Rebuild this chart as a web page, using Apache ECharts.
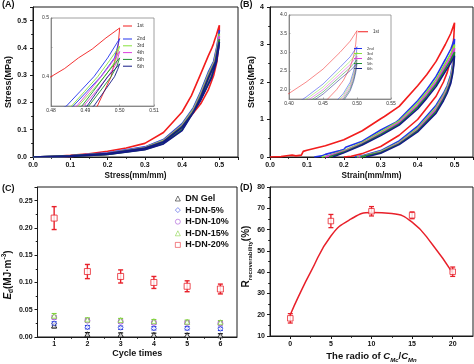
<!DOCTYPE html>
<html><head><meta charset="utf-8">
<script src="https://cdn.jsdelivr.net/npm/echarts@6/dist/echarts.min.js"></script>
<style>html,body{margin:0;padding:0;background:#fff}#c{width:474px;height:364px}</style>
</head><body><div id="c"></div>
<script>
const FONT = '"Liberation Sans", Arial, Helvetica, sans-serif';

// ---------------- Panel A: loading / unloading loops  [strain, stress(MPa)]
const cycleNames = ['1st','2nd','3rd','4th','5th','6th'];
const cycleColors = ['#f21d1d','#2233ee','#86e23c','#dd3ddd','#1f8f2f','#141a86'];
const aLoop1 = [[0,0],[0.05,0.002],[0.1,0.006],[0.15,0.012],[0.2,0.021],[0.25,0.033],[0.3,0.05],[0.35,0.09],[0.4,0.165],[0.425,0.225],[0.45,0.305],[0.47,0.37],[0.48,0.4],[0.484,0.414],[0.488,0.432],[0.492,0.447],[0.496,0.466],[0.5,0.483],
  [0.4995,0.45],[0.4975,0.4],[0.4935,0.35],[0.485,0.3],[0.47,0.245],[0.45,0.195],[0.4,0.11],[0.35,0.06],[0.3,0.032],[0.2,0.01],[0.1,0.002],[0.05,0]];
const aLoop2 = [[0,0],[0.1,0.004],[0.2,0.015],[0.3,0.037],[0.35,0.064],[0.4,0.122],[0.43,0.18],[0.45,0.24],[0.47,0.31],[0.4845,0.35],[0.4885,0.375],[0.4925,0.4],[0.4965,0.432],[0.5,0.465],
  [0.4985,0.432],[0.4945,0.4],[0.4905,0.375],[0.4865,0.35],[0.475,0.3],[0.45,0.225],[0.4,0.11],[0.35,0.056],[0.3,0.031],[0.2,0.011],[0.1,0.003],[0.05,0]];
const aLoop3 = [[0,0],[0.1,0.004],[0.2,0.014],[0.3,0.035],[0.35,0.061],[0.4,0.118],[0.43,0.175],[0.45,0.234],[0.47,0.303],[0.486,0.35],[0.4898,0.375],[0.4936,0.4],[0.497,0.427],[0.5,0.452],
  [0.4988,0.427],[0.4956,0.4],[0.4918,0.375],[0.488,0.35],[0.476,0.298],[0.45,0.22],[0.4,0.106],[0.35,0.054],[0.3,0.03],[0.2,0.01],[0.1,0.003],[0.05,0]];
const aLoop4 = [[0,0],[0.1,0.004],[0.2,0.014],[0.3,0.034],[0.35,0.059],[0.4,0.115],[0.43,0.17],[0.45,0.228],[0.47,0.297],[0.4875,0.35],[0.4911,0.375],[0.4946,0.4],[0.4975,0.422],[0.5,0.443],
  [0.499,0.422],[0.4966,0.4],[0.4931,0.375],[0.4895,0.35],[0.477,0.295],[0.45,0.216],[0.4,0.103],[0.35,0.052],[0.3,0.029],[0.2,0.01],[0.1,0.002],[0.05,0]];
const aLoop5 = [[0,0],[0.1,0.004],[0.2,0.013],[0.3,0.033],[0.35,0.057],[0.4,0.112],[0.43,0.166],[0.45,0.223],[0.47,0.292],[0.489,0.35],[0.4923,0.375],[0.4955,0.4],[0.498,0.418],[0.5,0.432],
  [0.4992,0.418],[0.4975,0.4],[0.4943,0.375],[0.491,0.35],[0.478,0.292],[0.45,0.212],[0.4,0.1],[0.35,0.05],[0.3,0.028],[0.2,0.009],[0.1,0.002],[0.05,0]];
const aLoop6 = [[0,0],[0.1,0.004],[0.2,0.013],[0.3,0.032],[0.35,0.055],[0.4,0.109],[0.43,0.162],[0.45,0.218],[0.47,0.287],[0.4905,0.35],[0.4935,0.375],[0.4965,0.4],[0.4985,0.412],[0.5,0.422],
  [0.4994,0.412],[0.4985,0.4],[0.4955,0.375],[0.4925,0.35],[0.479,0.29],[0.45,0.208],[0.4,0.097],[0.35,0.048],[0.3,0.027],[0.2,0.009],[0.1,0.002],[0.05,0]];
const aXTicks = [0,0.1,0.2,0.3,0.4,0.5];
const aYTicks = [0,0.1,0.2,0.3,0.4,0.5];
const aInsetXTicks = [0.48,0.49,0.50,0.51];
const aInsetYTicks = [0.4,0.5];

// ---------------- Panel B: loading / unloading loops [strain, stress(MPa)]
const bLoop1 = [[0,0],[0.03,0.01],[0.05,0.04],[0.06,0.05],[0.07,0.03],[0.085,0.05],[0.09,0.15],[0.1,0.18],[0.15,0.3],[0.2,0.46],[0.25,0.7],[0.3,1.02],[0.31,1.08],[0.35,1.35],[0.4,1.9],[0.425,2.2],[0.45,2.55],[0.475,3.0],[0.49,3.3],[0.5,3.58],
  [0.498,3.2],[0.495,2.9],[0.49,2.6],[0.48,2.25],[0.47,2.0],[0.45,1.62],[0.4,1.0],[0.35,0.58],[0.3,0.28],[0.25,0.09],[0.22,0.02],[0.2,0]];
const bLoop2 = [[0.12,0],[0.14,0.03],[0.15,0.07],[0.155,0.09],[0.19,0.17],[0.2,0.2],[0.205,0.26],[0.25,0.42],[0.3,0.72],[0.34,0.92],[0.35,1.0],[0.4,1.5],[0.425,1.8],[0.45,2.15],[0.475,2.6],[0.49,2.88],[0.5,3.15],
  [0.498,2.8],[0.495,2.5],[0.49,2.2],[0.48,1.9],[0.47,1.7],[0.45,1.38],[0.4,0.82],[0.35,0.43],[0.3,0.17],[0.25,0.03],[0.23,0]];
const bLoop3 = [[0.14,0],[0.16,0.04],[0.2,0.17],[0.25,0.39],[0.3,0.67],[0.35,0.96],[0.4,1.44],[0.425,1.74],[0.45,2.07],[0.475,2.5],[0.49,2.76],[0.5,3.0],
  [0.498,2.68],[0.495,2.42],[0.49,2.14],[0.48,1.85],[0.47,1.65],[0.45,1.32],[0.4,0.77],[0.35,0.39],[0.3,0.15],[0.25,0.02],[0.235,0]];
const bLoop4 = [[0.15,0],[0.2,0.15],[0.25,0.36],[0.3,0.63],[0.35,0.92],[0.4,1.38],[0.425,1.68],[0.45,2.0],[0.475,2.42],[0.49,2.67],[0.5,2.9],
  [0.498,2.6],[0.495,2.35],[0.49,2.08],[0.48,1.8],[0.47,1.6],[0.45,1.27],[0.4,0.73],[0.35,0.37],[0.3,0.13],[0.25,0.015],[0.24,0]];
const bLoop5 = [[0.16,0],[0.2,0.13],[0.25,0.34],[0.3,0.6],[0.35,0.88],[0.4,1.33],[0.425,1.62],[0.45,1.94],[0.475,2.35],[0.49,2.59],[0.5,2.8],
  [0.498,2.52],[0.495,2.28],[0.49,2.02],[0.48,1.75],[0.47,1.55],[0.45,1.22],[0.4,0.7],[0.35,0.35],[0.3,0.12],[0.25,0.01],[0.245,0]];
const bLoop6 = [[0.17,0],[0.2,0.11],[0.25,0.32],[0.3,0.57],[0.35,0.85],[0.4,1.28],[0.425,1.57],[0.45,1.88],[0.475,2.28],[0.49,2.51],[0.5,2.7],
  [0.498,2.45],[0.495,2.22],[0.49,1.97],[0.48,1.7],[0.47,1.5],[0.45,1.17],[0.4,0.67],[0.35,0.33],[0.3,0.1],[0.26,0]];
const bXTicks = [0,0.1,0.2,0.3,0.4,0.5];
const bYTicks = [0,1,2,3,4];
const bInsetXTicks = [0.40,0.45,0.50,0.55];
const bInsetYTicks = [2.0,2.5,3.0,3.5,4.0];

// ---------------- Panel C: dissipated energy vs cycle
const cycles = [1,2,3,4,5,6];
const cNames = ['DN Gel','H-DN-5%','H-DN-10%','H-DN-15%','H-DN-20%'];
const dnGel = [0.021,0.005,0.0045,0.004,0.0035,0.003];
const dnGelErr = [0.004,0.003,0.003,0.003,0.003,0.003];
const hdn5 = [0.025,0.018,0.017,0.016,0.016,0.015];
const hdn5Err = [0.003,0.003,0.003,0.003,0.003,0.003];
const hdn10 = [0.036,0.03,0.028,0.026,0.026,0.025];
const hdn10Err = [0.003,0.003,0.003,0.003,0.003,0.003];
const hdn15 = [0.039,0.032,0.031,0.029,0.028,0.027];
const hdn15Err = [0.004,0.003,0.003,0.003,0.003,0.003];
const hdn20 = [0.218,0.12,0.111,0.1,0.093,0.088];
const hdn20Err = [0.021,0.013,0.012,0.011,0.01,0.009];
const cYTicks = [0,0.05,0.1,0.15,0.2,0.25];
const cMinorX = [1.5,2.5,3.5,4.5,5.5];

// ---------------- Panel D: recoverability vs ratio
const ratio = [0,5,10,15,20];
const recov = [18.3,64,68.6,66.7,40.2];
const recovErr = [2.2,3.1,2.2,1.6,2.2];
const fitRatio = [0,1,2.5,5,7.5,10,12.5,15,17.5,20];
const fitRecov = [20,28.5,40,57,65,68,67.5,63.5,53,39.5];
const dXTicks = [0,5,10,15,20];
const dMinorX = [2.5,7.5,12.5,17.5];
const dYTicks = [10,20,30,40,50,60,70,80];

// ---------------- helpers
function merge(a, b) {
  const r = Object.assign({}, a);
  for (const k in b) {
    const v = b[k];
    if (v && typeof v === 'object' && !Array.isArray(v) && r[k] && typeof r[k] === 'object' && !Array.isArray(r[k])) r[k] = merge(r[k], v);
    else r[k] = v;
  }
  return r;
}
const MAIN = {
  type: 'value', nameLocation: 'middle',
  axisLine: { show: true, onZero: false, lineStyle: { color: '#1a1a1a', width: 1 } },
  axisTick: { show: true, inside: false, length: 3, lineStyle: { color: '#1a1a1a', width: 1 } },
  minorTick: { show: true, splitNumber: 2, length: 1.8, lineStyle: { color: '#1a1a1a', width: 1 } },
  splitLine: { show: false }, minorSplitLine: { show: false },
  axisLabel: { show: true, fontSize: 7, fontWeight: 'bold', color: '#111', fontFamily: FONT, margin: 5 },
  nameTextStyle: { fontSize: 9, fontWeight: 'bold', color: '#111', fontFamily: FONT }
};
const INSET = merge(MAIN, {
  axisLine: { lineStyle: { color: '#777', width: 0.8 } },
  axisTick: { inside: true, length: 1.5, lineStyle: { color: '#777', width: 0.6 } },
  minorTick: { show: false },
  axisLabel: { fontSize: 5, fontWeight: 'normal', color: '#333', margin: 2 }
});
const MINOR = merge(MAIN, {
  axisLine: { show: false }, axisLabel: { show: false }, minorTick: { show: false },
  axisTick: { length: 1.8 }
});
const f1 = v => v.toFixed(1), f2 = v => v.toFixed(2), f0 = v => String(v);

const xAxis = [
  merge(MAIN, { gridIndex: 0, min: 0, max: 0.55, interval: 0.1, axisLabel: { customValues: aXTicks, formatter: f1 },
    name: 'Stress(mm/mm)', nameGap: 15, nameTextStyle: { fontSize: 8.2 } }),
  merge(INSET, { gridIndex: 1, min: 0.48, max: 0.51, interval: 0.01, axisLabel: { customValues: aInsetXTicks, formatter: f2 } }),
  merge(MAIN, { gridIndex: 2, min: 0, max: 0.55, interval: 0.1, axisLabel: { customValues: bXTicks, formatter: f1 },
    name: 'Strain(mm/mm)', nameGap: 15, nameTextStyle: { fontSize: 8.2 } }),
  merge(INSET, { gridIndex: 3, min: 0.4, max: 0.55, interval: 0.05, axisLabel: { customValues: bInsetXTicks, formatter: f2 } }),
  merge(MAIN, { gridIndex: 4, min: 0.5, max: 6.5, minorTick: { show: false }, axisTick: { customValues: cycles },
    axisLabel: { customValues: cycles, formatter: f0, margin: 4 }, name: 'Cycle times', nameGap: 10.5 }),
  merge(MINOR, { gridIndex: 4, min: 0.5, max: 6.5, position: 'bottom', axisTick: { customValues: cMinorX } }),
  merge(MAIN, { gridIndex: 5, min: -2.5, max: 22.5, minorTick: { show: false }, axisTick: { customValues: dXTicks },
    axisLabel: { customValues: dXTicks, formatter: f0, margin: 4.5 },
    name: '{b|The radio of }{i|C}{s|Mc}{b|/}{i|C}{s|Mn}', nameGap: 14,
    nameTextStyle: { fontSize: 9.5, rich: {
      b: { fontSize: 9.5, fontWeight: 'bold', fontFamily: FONT, color: '#111', lineHeight: 13, verticalAlign: 'middle' },
      i: { fontSize: 9.5, fontWeight: 'bold', fontStyle: 'italic', fontFamily: FONT, color: '#111', lineHeight: 13, verticalAlign: 'middle' },
      s: { fontSize: 6, fontWeight: 'bold', fontStyle: 'italic', fontFamily: FONT, color: '#111', verticalAlign: 'bottom' } } } }),
  merge(MINOR, { gridIndex: 5, min: -2.5, max: 22.5, position: 'bottom', axisTick: { customValues: dMinorX } })
];
const yAxis = [
  merge(MAIN, { gridIndex: 0, min: 0, max: 0.55, interval: 0.1, axisLabel: { customValues: aYTicks, formatter: f1, margin: 6 },
    name: 'Stress(MPa)', nameGap: 17 }),
  merge(INSET, { gridIndex: 1, min: 0.35, max: 0.5, interval: 0.05, axisLabel: { customValues: aInsetYTicks, formatter: f1 } }),
  merge(MAIN, { gridIndex: 2, min: 0, max: 4, interval: 1, axisLabel: { customValues: bYTicks, formatter: f0, margin: 6 },
    name: 'Stress(MPa)', nameGap: 14 }),
  merge(INSET, { gridIndex: 3, min: 1.75, max: 4, axisTick: { customValues: bInsetYTicks }, axisLabel: { customValues: bInsetYTicks, formatter: f1 } }),
  merge(MAIN, { gridIndex: 4, min: 0, max: 0.275, interval: 0.05, axisLabel: { customValues: cYTicks, formatter: f2 },
    name: '{i|E}{s|d}{b|(MJ·m}{p|-3}{b|)}', nameGap: 13,
    nameTextStyle: { fontSize: 10, padding: [0, 26, 0, 0], rich: {
      b: { fontSize: 10, fontWeight: 'bold', fontFamily: FONT, color: '#111', lineHeight: 14, verticalAlign: 'middle' },
      i: { fontSize: 10, fontWeight: 'bold', fontStyle: 'italic', fontFamily: FONT, color: '#111', lineHeight: 14, verticalAlign: 'middle' },
      s: { fontSize: 6.5, fontWeight: 'bold', fontFamily: FONT, color: '#111', verticalAlign: 'bottom' },
      p: { fontSize: 6.5, fontWeight: 'bold', fontFamily: FONT, color: '#111', verticalAlign: 'top' } } } }),
  merge(MAIN, { gridIndex: 5, min: 10, max: 80, interval: 10, axisLabel: { customValues: dYTicks, formatter: f0 },
    name: '{b|R}{s|recoverability}{b|(%)}', nameGap: 13,
    nameTextStyle: { fontSize: 10, padding: [0, 0, 0, 10], rich: {
      b: { fontSize: 10, fontWeight: 'bold', fontFamily: FONT, color: '#111', lineHeight: 14, verticalAlign: 'middle' },
      s: { fontSize: 6, fontWeight: 'bold', fontFamily: FONT, color: '#111', verticalAlign: 'bottom' } } } })
];

const grid = [
  { left: 33, top: 7, width: 205, height: 150 },
  { left: 51, top: 18, width: 103, height: 88 },
  { left: 270, top: 7, width: 203, height: 150 },
  { left: 289, top: 15, width: 102, height: 84 },
  { left: 33, top: 187, width: 204, height: 150 },
  { left: 270, top: 187, width: 203, height: 150 }
].map((g, i) => Object.assign({ show: true, borderColor: (i === 1 || i === 3) ? '#888' : '#1a1a1a',
  borderWidth: (i === 1 || i === 3) ? 0.8 : 1, backgroundColor: '#fff', containLabel: false }, g));

const series = [];
const aLoops = [aLoop1, aLoop2, aLoop3, aLoop4, aLoop5, aLoop6];
const bLoops = [bLoop1, bLoop2, bLoop3, bLoop4, bLoop5, bLoop6];
function loopSeries(name, data, xi, yi, color, width, opacity, z) {
  return { type: 'line', name, data, xAxisIndex: xi, yAxisIndex: yi, showSymbol: false, symbol: 'none',
    smooth: false, clip: true, silent: true, z,
    lineStyle: { color, width, opacity }, itemStyle: { color } };
}
aLoops.forEach((d, i) => {
  series.push(loopSeries('A' + (i + 1), d, 0, 0, cycleColors[i], 1.6, 1, 2 + i));
  series.push(loopSeries('iA' + (i + 1), d, 1, 1, cycleColors[i], 0.9, 1, 2 + i));
});
bLoops.forEach((d, i) => {
  series.push(loopSeries('B' + (i + 1), d, 2, 2, cycleColors[i], 1.6, 1, 2 + i));
  series.push(loopSeries('iB' + (i + 1), d, 3, 3, cycleColors[i], 0.8, 0.65, 2 + i));
});

function errRender(color, width, cap) {
  return function (params, api) {
    const x = api.value(0), lo = api.value(1), hi = api.value(2);
    const p1 = api.coord([x, hi]), p2 = api.coord([x, lo]);
    const st = { stroke: color, lineWidth: width, fill: null };
    return { type: 'group', children: [
      { type: 'line', shape: { x1: p1[0], y1: p1[1], x2: p2[0], y2: p2[1] }, style: st },
      { type: 'line', shape: { x1: p1[0] - cap, y1: p1[1], x2: p1[0] + cap, y2: p1[1] }, style: st },
      { type: 'line', shape: { x1: p2[0] - cap, y1: p2[1], x2: p2[0] + cap, y2: p2[1] }, style: st }
    ] };
  };
}
const cVals = [dnGel, hdn5, hdn10, hdn15, hdn20];
const cErrs = [dnGelErr, hdn5Err, hdn10Err, hdn15Err, hdn20Err];
const cColors = ['#111111', '#2a3de0', '#a044d4', '#7fd03a', '#e8202a'];
const cSymbols = ['triangle', 'diamond', 'circle', 'triangle', 'rect'];
cVals.forEach((vals, k) => {
  series.push({ type: 'custom', name: cNames[k] + ' err', xAxisIndex: 4, yAxisIndex: 4, silent: true, z: 3,
    encode: { x: 0, y: [1, 2] }, renderItem: errRender(cColors[k], k === 4 ? 1.4 : 1.2, 2.5),
    data: cycles.map((c, i) => [c, vals[i] - cErrs[k][i], vals[i] + cErrs[k][i]]) });
  series.push({ type: 'scatter', name: cNames[k], xAxisIndex: 4, yAxisIndex: 4, z: 4, silent: true,
    symbol: cSymbols[k], symbolSize: k === 4 ? 6 : 5,
    itemStyle: { color: '#fff', borderColor: cColors[k], borderWidth: 1 },
    data: cycles.map((c, i) => [c, vals[i]]) });
});
series.push({ type: 'line', name: 'fit', xAxisIndex: 6, yAxisIndex: 5, smooth: true, showSymbol: false, symbol: 'none',
  silent: true, z: 2, lineStyle: { color: '#e8202a', width: 1.5 }, itemStyle: { color: '#e8202a' },
  data: fitRatio.map((x, i) => [x, fitRecov[i]]) });
series.push({ type: 'custom', name: 'D err', xAxisIndex: 6, yAxisIndex: 5, silent: true, z: 3,
  encode: { x: 0, y: [1, 2] }, renderItem: errRender('#e8202a', 1.3, 2.5),
  data: ratio.map((x, i) => [x, recov[i] - recovErr[i], recov[i] + recovErr[i]]) });
series.push({ type: 'scatter', name: 'Recoverability', xAxisIndex: 6, yAxisIndex: 5, z: 4, silent: true,
  symbol: 'rect', symbolSize: 5.5, itemStyle: { color: '#fff', borderColor: '#e8202a', borderWidth: 1 },
  data: ratio.map((x, i) => [x, recov[i]]) });

const insetLegend = (data, left, top, gap, fs, w) => ({
  data, left, top, orient: 'vertical', icon: 'rect', itemWidth: w, itemHeight: 1, itemGap: gap, padding: 0,
  selectedMode: false, formatter: n => cycleNames[+n.replace(/\D/g, '') - 1],
  textStyle: { fontSize: fs, color: '#333', fontFamily: FONT, lineHeight: fs + 1 } });

const option = {
  animation: false,
  backgroundColor: '#fff',
  grid, xAxis, yAxis, series,
  legend: [
    insetLegend(['iA1'], 123, 23, 1, 5, 9),
    insetLegend(['iA2', 'iA3', 'iA4', 'iA5', 'iA6'], 123, 36, 0.8, 5, 9),
    insetLegend(['iB1'], 358, 29, 1, 4.5, 10),
    insetLegend(['iB2', 'iB3', 'iB4', 'iB5', 'iB6'], 354, 46, 0, 4, 8),
    { data: cNames, left: 175, top: 194, orient: 'vertical', itemWidth: 5, itemHeight: 5, itemGap: 2.6, padding: 0,
      itemStyle: { color: '#fff', borderWidth: 0.7 },
      selectedMode: false, textStyle: { fontSize: 9, fontWeight: 'bold', color: '#111', fontFamily: FONT, lineHeight: 9 } }
  ],
  graphic: [
    { type: 'text', left: 2, top: 0, style: { text: '(A)', fontSize: 9, fontWeight: 'bold', fontFamily: FONT, fill: '#111' } },
    { type: 'text', left: 240, top: 0, style: { text: '(B)', fontSize: 9, fontWeight: 'bold', fontFamily: FONT, fill: '#111' } },
    { type: 'text', left: 2, top: 184, style: { text: '(C)', fontSize: 9, fontWeight: 'bold', fontFamily: FONT, fill: '#111' } },
    { type: 'text', left: 240, top: 183, style: { text: '(D)', fontSize: 9, fontWeight: 'bold', fontFamily: FONT, fill: '#111' } }
  ]
};
const chart = echarts.init(document.getElementById('c'), null, { renderer: 'canvas' });
chart.setOption(option);
</script></body></html>
